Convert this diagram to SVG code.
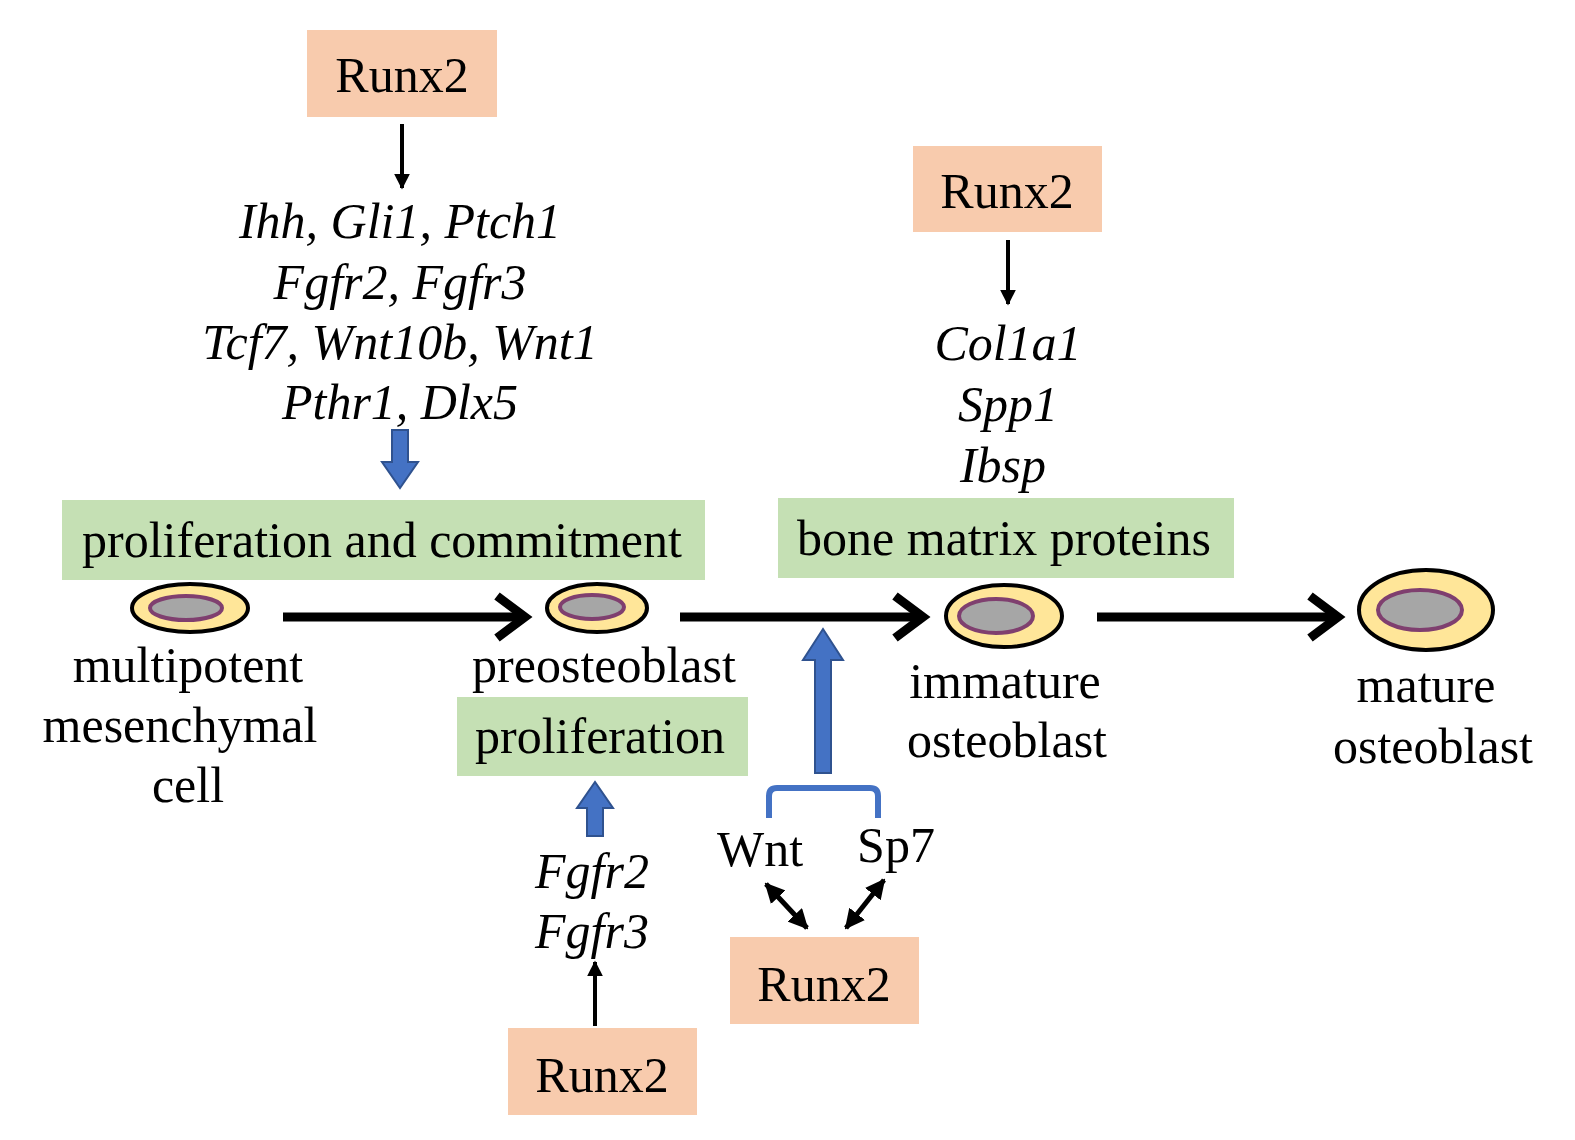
<svg xmlns="http://www.w3.org/2000/svg" width="1575" height="1140" viewBox="0 0 1575 1140">
<style>
.r{fill:#f8cbad}.g{fill:#c5e0b4}
text{font-family:"Liberation Serif","Times New Roman",serif;fill:#000;text-anchor:middle}
.t{font-size:50px}.i{font-size:50px;font-style:italic}
.big{stroke:#000;stroke-width:9;fill:none}
.thin{stroke:#000;stroke-width:4;fill:none}
.dbl{stroke:#000;stroke-width:5;fill:none}
.blue{fill:#4472c4;stroke:#2f528f;stroke-width:2}
.cell{fill:#ffe699;stroke:#000;stroke-width:4}
.nuc{fill:#a6a6a6;stroke:#7f3f6f;stroke-width:4}
</style>
<defs>
<marker id="ah" viewBox="0 0 10 10" refX="9" refY="5" markerWidth="4" markerHeight="4" orient="auto-start-reverse"><path d="M0,0 L10,5 L0,10 z" fill="#000"/></marker>
</defs>
<g id="boxes">
<rect class="r" x="307" y="30" width="190" height="87"/><text class="t" x="402" y="92">Runx2</text>
<rect class="r" x="913" y="146" width="189" height="86"/><text class="t" x="1007" y="208">Runx2</text>
<rect class="r" x="730" y="937" width="189" height="87"/><text class="t" x="824" y="1001">Runx2</text>
<rect class="r" x="508" y="1028" width="189" height="87"/><text class="t" x="602" y="1092">Runx2</text>
<rect class="g" x="62" y="500" width="643" height="80"/><text class="t" x="382" y="557">proliferation and commitment</text>
<rect class="g" x="778" y="498" width="456" height="80"/><text class="t" x="1004" y="555">bone matrix proteins</text>
<rect class="g" x="457" y="697" width="291" height="79"/><text class="t" x="600" y="753">proliferation</text>
</g>
<g id="genes">
<text class="i" x="400" y="238">Ihh, Gli1, Ptch1</text>
<text class="i" x="400" y="299">Fgfr2, Fgfr3</text>
<text class="i" x="400" y="359">Tcf7, Wnt10b, Wnt1</text>
<text class="i" x="400" y="419">Pthr1, Dlx5</text>
<text class="i" x="1008" y="360">Col1a1</text>
<text class="i" x="1008" y="421">Spp1</text>
<text class="i" x="1003" y="482">Ibsp</text>
<text class="i" x="592" y="888">Fgfr2</text>
<text class="i" x="592" y="948">Fgfr3</text>
<text class="t" x="760" y="866">Wnt</text>
<text class="t" x="896" y="862">Sp7</text>
</g>
<g id="cells">
<ellipse class="cell" cx="190" cy="608" rx="58" ry="24"/><ellipse class="nuc" cx="186" cy="608" rx="36" ry="12"/>
<ellipse class="cell" cx="597" cy="608" rx="50" ry="24"/><ellipse class="nuc" cx="592" cy="607" rx="32" ry="12"/>
<ellipse class="cell" cx="1004" cy="616" rx="58" ry="31"/><ellipse class="nuc" cx="996" cy="616" rx="37" ry="17"/>
<ellipse class="cell" cx="1426" cy="610" rx="67" ry="40"/><ellipse class="nuc" cx="1420" cy="610" rx="42" ry="20"/>
<text class="t" x="188" y="682">multipotent</text><text class="t" x="180" y="742">mesenchymal</text><text class="t" x="188" y="802">cell</text>
<text class="t" x="604" y="682">preosteoblast</text>
<text class="t" x="1005" y="698">immature</text><text class="t" x="1007" y="757">osteoblast</text>
<text class="t" x="1426" y="702">mature</text><text class="t" x="1433" y="763">osteoblast</text>
</g>
<g id="connectors">
<line class="big" x1="283" y1="617" x2="525" y2="617"/><polyline class="big" points="497,596 525,617 497,638"/>
<line class="big" x1="680" y1="617" x2="923" y2="617"/><polyline class="big" points="895,596 923,617 895,638"/>
<line class="big" x1="1097" y1="617" x2="1338" y2="617"/><polyline class="big" points="1310,596 1338,617 1310,638"/>
<line class="thin" x1="402" y1="124" x2="402" y2="188" marker-end="url(#ah)"/>
<line class="thin" x1="1008" y1="240" x2="1008" y2="304" marker-end="url(#ah)"/>
<line class="thin" x1="595" y1="1026" x2="595" y2="962" marker-end="url(#ah)"/>
<line class="dbl" x1="766" y1="884" x2="807" y2="928" marker-start="url(#ah)" marker-end="url(#ah)"/>
<line class="dbl" x1="884" y1="880" x2="846" y2="928" marker-start="url(#ah)" marker-end="url(#ah)"/>
<path class="blue" d="M392,430 H408 V462 H418 L400,488 L382,462 H392 Z"/>
<path class="blue" d="M587,836 H603 V808 H613 L595,782 L577,808 H587 Z"/>
<path class="blue" d="M815,773 H831 V660 H843 L823,629 L803,660 H815 Z"/>
<path d="M769,818 V796 Q769,788 777,788 H870 Q878,788 878,796 V818" fill="none" stroke="#4472c4" stroke-width="6"/>
</g>
</svg>
